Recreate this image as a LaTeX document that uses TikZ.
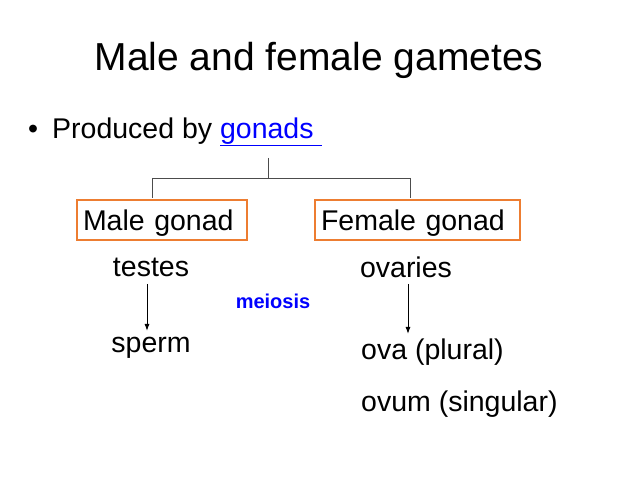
\documentclass[tikz,border=0pt]{standalone}
\usepackage{fontspec}
\setmainfont{Liberation Sans}
\usetikzlibrary{arrows.meta}
\begin{document}
\begin{tikzpicture}[x=1pt,y=-1pt,
  txt/.style={font=\fontsize{28.5}{32}\selectfont,inner sep=0pt},
  gbox/.style={draw={rgb,255:red,237;green,125;blue,49},line width=1.5pt,minimum height=40pt,inner sep=6pt,text depth=0pt,align=left,font=\fontsize{28.5}{32}\selectfont},
  conn/.style={line width=0.6pt,draw=black!70},
  arr/.style={line width=1pt,-{Latex[length=7pt,width=5pt]}}]
\useasboundingbox (0,0) rectangle (638,478);
\node[font=\fontsize{39}{44}\selectfont] (title) at (319,60) {Male and female gametes};
\node[txt,anchor=west] (bul) at (28,132) {\textbullet\hspace{14pt}Produced by \textcolor{blue}{\underline{gonads\ }}};
\node[gbox,minimum width=170pt,text width=158pt] (male) at (162,220) {Male gonad};
\node[gbox,minimum width=205pt,text width=193pt] (female) at (417.5,220) {Female gonad};
\coordinate (top) at (268,158);
\coordinate (mid) at (268,178);
\coordinate (l) at (152,178);
\coordinate (r) at (410,178);
\coordinate (ld) at (152,198);
\coordinate (rd) at (410,198);
\draw[conn] (top)--(mid) (l)--(r) (l)--(ld) (r)--(rd);
\node[txt] (testes) at (151,267) {testes};
\node[txt] (ovaries) at (406,267) {ovaries};
\node[font=\bfseries\fontsize{20}{24}\selectfont,text=blue] (meiosis) at (273,301) {meiosis};
\node[txt] (sperm) at (151,348) {sperm};
\node[txt,anchor=west] (ova) at (361,352) {ova (plural)};
\node[txt,anchor=west] (ovum) at (361,404) {ovum (singular)};
\coordinate (a1) at (147,284); \coordinate (a2) at (147,331);
\coordinate (b1) at (408,284); \coordinate (b2) at (408,334);
\draw[arr] (a1)--(a2);
\draw[arr] (b1)--(b2);
\end{tikzpicture}
\end{document}
